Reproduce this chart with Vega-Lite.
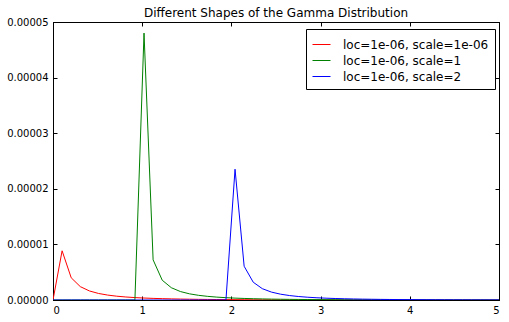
{
  "$schema": "https://vega.github.io/schema/vega-lite/v6.json",
  "width": 446,
  "height": 278,
  "autosize": "none",
  "padding": {"left": 53, "top": 22, "right": 10, "bottom": 22},
  "background": "white",
  "title": {"text": "Different Shapes of the Gamma Distribution", "font": "DejaVu Sans", "fontSize": 12, "fontWeight": "normal", "color": "black", "anchor": "middle", "offset": -3},
  "config": {
    "view": {"stroke": "black", "strokeWidth": 1},
    "axis": {"domainColor": "black", "domainWidth": 1, "tickColor": "black", "tickWidth": 1, "tickSize": -4, "labelPadding": 9, "labelColor": "black", "labelFont": "DejaVu Sans", "labelFontSize": 10, "grid": false, "title": null}
  },
  "data": {"values": [
    {"x": 0, "y": 0, "s": "loc=1e-06, scale=1e-06"},
    {"x": 0.1020, "y": 8.85e-6, "s": "loc=1e-06, scale=1e-06"},
    {"x": 0.2041, "y": 3.996e-6, "s": "loc=1e-06, scale=1e-06"},
    {"x": 0.3061, "y": 2.405e-6, "s": "loc=1e-06, scale=1e-06"},
    {"x": 0.4082, "y": 1.629e-6, "s": "loc=1e-06, scale=1e-06"},
    {"x": 0.5102, "y": 1.177e-6, "s": "loc=1e-06, scale=1e-06"},
    {"x": 0.6122, "y": 0.8855e-6, "s": "loc=1e-06, scale=1e-06"},
    {"x": 0.7143, "y": 0.6853e-6, "s": "loc=1e-06, scale=1e-06"},
    {"x": 0.8163, "y": 0.5415e-6, "s": "loc=1e-06, scale=1e-06"},
    {"x": 0.9184, "y": 0.4347e-6, "s": "loc=1e-06, scale=1e-06"},
    {"x": 1.0204, "y": 0.3532e-6, "s": "loc=1e-06, scale=1e-06"},
    {"x": 1.1224, "y": 0.29e-6, "s": "loc=1e-06, scale=1e-06"},
    {"x": 1.2245, "y": 0.24e-6, "s": "loc=1e-06, scale=1e-06"},
    {"x": 1.3265, "y": 0.2001e-6, "s": "loc=1e-06, scale=1e-06"},
    {"x": 1.4286, "y": 0.1678e-6, "s": "loc=1e-06, scale=1e-06"},
    {"x": 1.5306, "y": 0.1414e-6, "s": "loc=1e-06, scale=1e-06"},
    {"x": 1.6327, "y": 0.1197e-6, "s": "loc=1e-06, scale=1e-06"},
    {"x": 1.7347, "y": 0.1017e-6, "s": "loc=1e-06, scale=1e-06"},
    {"x": 1.8367, "y": 0.0867e-6, "s": "loc=1e-06, scale=1e-06"},
    {"x": 1.9388, "y": 0.0742e-6, "s": "loc=1e-06, scale=1e-06"},
    {"x": 2.0408, "y": 0.0637e-6, "s": "loc=1e-06, scale=1e-06"},
    {"x": 2.1429, "y": 0.0547e-6, "s": "loc=1e-06, scale=1e-06"},
    {"x": 2.2449, "y": 0.0472e-6, "s": "loc=1e-06, scale=1e-06"},
    {"x": 2.3469, "y": 0.0407e-6, "s": "loc=1e-06, scale=1e-06"},
    {"x": 2.4490, "y": 0.0353e-6, "s": "loc=1e-06, scale=1e-06"},
    {"x": 2.5510, "y": 0.0306e-6, "s": "loc=1e-06, scale=1e-06"},
    {"x": 2.6531, "y": 0.0265e-6, "s": "loc=1e-06, scale=1e-06"},
    {"x": 2.7551, "y": 0.0231e-6, "s": "loc=1e-06, scale=1e-06"},
    {"x": 2.8571, "y": 0.0201e-6, "s": "loc=1e-06, scale=1e-06"},
    {"x": 2.9592, "y": 0.0175e-6, "s": "loc=1e-06, scale=1e-06"},
    {"x": 3.0612, "y": 0.0153e-6, "s": "loc=1e-06, scale=1e-06"},
    {"x": 3.1633, "y": 0.0134e-6, "s": "loc=1e-06, scale=1e-06"},
    {"x": 3.2653, "y": 0.0117e-6, "s": "loc=1e-06, scale=1e-06"},
    {"x": 3.3673, "y": 0.0102e-6, "s": "loc=1e-06, scale=1e-06"},
    {"x": 3.4694, "y": 0.009e-6, "s": "loc=1e-06, scale=1e-06"},
    {"x": 3.5714, "y": 0.0079e-6, "s": "loc=1e-06, scale=1e-06"},
    {"x": 3.6735, "y": 0.0069e-6, "s": "loc=1e-06, scale=1e-06"},
    {"x": 3.7755, "y": 0.0061e-6, "s": "loc=1e-06, scale=1e-06"},
    {"x": 3.8776, "y": 0.0053e-6, "s": "loc=1e-06, scale=1e-06"},
    {"x": 3.9796, "y": 0.0047e-6, "s": "loc=1e-06, scale=1e-06"},
    {"x": 4.0816, "y": 0.0041e-6, "s": "loc=1e-06, scale=1e-06"},
    {"x": 4.1837, "y": 0.0036e-6, "s": "loc=1e-06, scale=1e-06"},
    {"x": 4.2857, "y": 0.0032e-6, "s": "loc=1e-06, scale=1e-06"},
    {"x": 4.3878, "y": 0.0028e-6, "s": "loc=1e-06, scale=1e-06"},
    {"x": 4.4898, "y": 0.0025e-6, "s": "loc=1e-06, scale=1e-06"},
    {"x": 4.5918, "y": 0.0022e-6, "s": "loc=1e-06, scale=1e-06"},
    {"x": 4.6939, "y": 0.002e-6, "s": "loc=1e-06, scale=1e-06"},
    {"x": 4.7959, "y": 0.0017e-6, "s": "loc=1e-06, scale=1e-06"},
    {"x": 4.8980, "y": 0.0015e-6, "s": "loc=1e-06, scale=1e-06"},
    {"x": 5, "y": 0.0013e-6, "s": "loc=1e-06, scale=1e-06"},

    {"x": 0, "y": 0, "s": "loc=1e-06, scale=1"},
    {"x": 0.1020, "y": 0, "s": "loc=1e-06, scale=1"},
    {"x": 0.2041, "y": 0, "s": "loc=1e-06, scale=1"},
    {"x": 0.3061, "y": 0, "s": "loc=1e-06, scale=1"},
    {"x": 0.4082, "y": 0, "s": "loc=1e-06, scale=1"},
    {"x": 0.5102, "y": 0, "s": "loc=1e-06, scale=1"},
    {"x": 0.6122, "y": 0, "s": "loc=1e-06, scale=1"},
    {"x": 0.7143, "y": 0, "s": "loc=1e-06, scale=1"},
    {"x": 0.8163, "y": 0, "s": "loc=1e-06, scale=1"},
    {"x": 0.9184, "y": 0, "s": "loc=1e-06, scale=1"},
    {"x": 1.0204, "y": 48.01e-6, "s": "loc=1e-06, scale=1"},
    {"x": 1.1224, "y": 7.225e-6, "s": "loc=1e-06, scale=1"},
    {"x": 1.2245, "y": 3.559e-6, "s": "loc=1e-06, scale=1"},
    {"x": 1.3265, "y": 2.209e-6, "s": "loc=1e-06, scale=1"},
    {"x": 1.4286, "y": 1.52e-6, "s": "loc=1e-06, scale=1"},
    {"x": 1.5306, "y": 1.109e-6, "s": "loc=1e-06, scale=1"},
    {"x": 1.6327, "y": 0.8396e-6, "s": "loc=1e-06, scale=1"},
    {"x": 1.7347, "y": 0.6529e-6, "s": "loc=1e-06, scale=1"},
    {"x": 1.8367, "y": 0.5176e-6, "s": "loc=1e-06, scale=1"},
    {"x": 1.9388, "y": 0.4166e-6, "s": "loc=1e-06, scale=1"},
    {"x": 2.0408, "y": 0.3393e-6, "s": "loc=1e-06, scale=1"},
    {"x": 2.1429, "y": 0.279e-6, "s": "loc=1e-06, scale=1"},
    {"x": 2.2449, "y": 0.2313e-6, "s": "loc=1e-06, scale=1"},
    {"x": 2.3469, "y": 0.193e-6, "s": "loc=1e-06, scale=1"},
    {"x": 2.4490, "y": 0.162e-6, "s": "loc=1e-06, scale=1"},
    {"x": 2.5510, "y": 0.1367e-6, "s": "loc=1e-06, scale=1"},
    {"x": 2.6531, "y": 0.1158e-6, "s": "loc=1e-06, scale=1"},
    {"x": 2.7551, "y": 0.0985e-6, "s": "loc=1e-06, scale=1"},
    {"x": 2.8571, "y": 0.0841e-6, "s": "loc=1e-06, scale=1"},
    {"x": 2.9592, "y": 0.072e-6, "s": "loc=1e-06, scale=1"},
    {"x": 3.0612, "y": 0.0618e-6, "s": "loc=1e-06, scale=1"},
    {"x": 3.1633, "y": 0.0531e-6, "s": "loc=1e-06, scale=1"},
    {"x": 3.2653, "y": 0.0458e-6, "s": "loc=1e-06, scale=1"},
    {"x": 3.3673, "y": 0.0396e-6, "s": "loc=1e-06, scale=1"},
    {"x": 3.4694, "y": 0.0343e-6, "s": "loc=1e-06, scale=1"},
    {"x": 3.5714, "y": 0.0297e-6, "s": "loc=1e-06, scale=1"},
    {"x": 3.6735, "y": 0.0258e-6, "s": "loc=1e-06, scale=1"},
    {"x": 3.7755, "y": 0.0225e-6, "s": "loc=1e-06, scale=1"},
    {"x": 3.8776, "y": 0.0196e-6, "s": "loc=1e-06, scale=1"},
    {"x": 3.9796, "y": 0.0171e-6, "s": "loc=1e-06, scale=1"},
    {"x": 4.0816, "y": 0.0149e-6, "s": "loc=1e-06, scale=1"},
    {"x": 4.1837, "y": 0.013e-6, "s": "loc=1e-06, scale=1"},
    {"x": 4.2857, "y": 0.0114e-6, "s": "loc=1e-06, scale=1"},
    {"x": 4.3878, "y": 0.01e-6, "s": "loc=1e-06, scale=1"},
    {"x": 4.4898, "y": 0.0087e-6, "s": "loc=1e-06, scale=1"},
    {"x": 4.5918, "y": 0.0077e-6, "s": "loc=1e-06, scale=1"},
    {"x": 4.6939, "y": 0.0067e-6, "s": "loc=1e-06, scale=1"},
    {"x": 4.7959, "y": 0.0059e-6, "s": "loc=1e-06, scale=1"},
    {"x": 4.8980, "y": 0.0052e-6, "s": "loc=1e-06, scale=1"},
    {"x": 5, "y": 0.0046e-6, "s": "loc=1e-06, scale=1"},

    {"x": 0, "y": 0, "s": "loc=1e-06, scale=2"},
    {"x": 0.1020, "y": 0, "s": "loc=1e-06, scale=2"},
    {"x": 0.2041, "y": 0, "s": "loc=1e-06, scale=2"},
    {"x": 0.3061, "y": 0, "s": "loc=1e-06, scale=2"},
    {"x": 0.4082, "y": 0, "s": "loc=1e-06, scale=2"},
    {"x": 0.5102, "y": 0, "s": "loc=1e-06, scale=2"},
    {"x": 0.6122, "y": 0, "s": "loc=1e-06, scale=2"},
    {"x": 0.7143, "y": 0, "s": "loc=1e-06, scale=2"},
    {"x": 0.8163, "y": 0, "s": "loc=1e-06, scale=2"},
    {"x": 0.9184, "y": 0, "s": "loc=1e-06, scale=2"},
    {"x": 1.0204, "y": 0, "s": "loc=1e-06, scale=2"},
    {"x": 1.1224, "y": 0, "s": "loc=1e-06, scale=2"},
    {"x": 1.2245, "y": 0, "s": "loc=1e-06, scale=2"},
    {"x": 1.3265, "y": 0, "s": "loc=1e-06, scale=2"},
    {"x": 1.4286, "y": 0, "s": "loc=1e-06, scale=2"},
    {"x": 1.5306, "y": 0, "s": "loc=1e-06, scale=2"},
    {"x": 1.6327, "y": 0, "s": "loc=1e-06, scale=2"},
    {"x": 1.7347, "y": 0, "s": "loc=1e-06, scale=2"},
    {"x": 1.8367, "y": 0, "s": "loc=1e-06, scale=2"},
    {"x": 1.9388, "y": 0, "s": "loc=1e-06, scale=2"},
    {"x": 2.0408, "y": 23.52e-6, "s": "loc=1e-06, scale=2"},
    {"x": 2.1429, "y": 6.068e-6, "s": "loc=1e-06, scale=2"},
    {"x": 2.2449, "y": 3.196e-6, "s": "loc=1e-06, scale=2"},
    {"x": 2.3469, "y": 2.037e-6, "s": "loc=1e-06, scale=2"},
    {"x": 2.4490, "y": 1.422e-6, "s": "loc=1e-06, scale=2"},
    {"x": 2.5510, "y": 1.046e-6, "s": "loc=1e-06, scale=2"},
    {"x": 2.6531, "y": 0.797e-6, "s": "loc=1e-06, scale=2"},
    {"x": 2.7551, "y": 0.6224e-6, "s": "loc=1e-06, scale=2"},
    {"x": 2.8571, "y": 0.4951e-6, "s": "loc=1e-06, scale=2"},
    {"x": 2.9592, "y": 0.3995e-6, "s": "loc=1e-06, scale=2"},
    {"x": 3.0612, "y": 0.3261e-6, "s": "loc=1e-06, scale=2"},
    {"x": 3.1633, "y": 0.2686e-6, "s": "loc=1e-06, scale=2"},
    {"x": 3.2653, "y": 0.223e-6, "s": "loc=1e-06, scale=2"},
    {"x": 3.3673, "y": 0.1863e-6, "s": "loc=1e-06, scale=2"},
    {"x": 3.4694, "y": 0.1566e-6, "s": "loc=1e-06, scale=2"},
    {"x": 3.5714, "y": 0.1322e-6, "s": "loc=1e-06, scale=2"},
    {"x": 3.6735, "y": 0.1121e-6, "s": "loc=1e-06, scale=2"},
    {"x": 3.7755, "y": 0.0954e-6, "s": "loc=1e-06, scale=2"},
    {"x": 3.8776, "y": 0.0815e-6, "s": "loc=1e-06, scale=2"},
    {"x": 3.9796, "y": 0.0698e-6, "s": "loc=1e-06, scale=2"},
    {"x": 4.0816, "y": 0.0599e-6, "s": "loc=1e-06, scale=2"},
    {"x": 4.1837, "y": 0.0516e-6, "s": "loc=1e-06, scale=2"},
    {"x": 4.2857, "y": 0.0445e-6, "s": "loc=1e-06, scale=2"},
    {"x": 4.3878, "y": 0.0385e-6, "s": "loc=1e-06, scale=2"},
    {"x": 4.4898, "y": 0.0333e-6, "s": "loc=1e-06, scale=2"},
    {"x": 4.5918, "y": 0.0289e-6, "s": "loc=1e-06, scale=2"},
    {"x": 4.6939, "y": 0.0251e-6, "s": "loc=1e-06, scale=2"},
    {"x": 4.7959, "y": 0.0218e-6, "s": "loc=1e-06, scale=2"},
    {"x": 4.8980, "y": 0.019e-6, "s": "loc=1e-06, scale=2"},
    {"x": 5, "y": 0.0166e-6, "s": "loc=1e-06, scale=2"}
  ]},
  "layer": [
    {
      "mark": {"type": "line", "strokeWidth": 1, "clip": true},
      "encoding": {
        "x": {"field": "x", "type": "quantitative", "scale": {"domain": [0, 5], "nice": false, "zero": false}, "axis": {"orient": "bottom", "values": [0, 1, 2, 3, 4, 5], "format": "d"}},
        "y": {"field": "y", "type": "quantitative", "scale": {"domain": [0, 0.00005], "nice": false}, "axis": {"orient": "left", "values": [0, 0.00001, 0.00002, 0.00003, 0.00004, 0.00005], "format": ".5f"}},
        "color": {"field": "s", "type": "nominal", "scale": {"domain": ["loc=1e-06, scale=1e-06", "loc=1e-06, scale=1", "loc=1e-06, scale=2"], "range": ["#ff0000", "#008000", "#0000ff"]},
          "legend": {"orient": "none", "legendX": 253, "legendY": 7, "title": null, "symbolType": "stroke", "symbolSize": 324, "symbolStrokeWidth": 1, "labelFont": "DejaVu Sans", "labelFontSize": 12, "labelColor": "black", "labelOffset": 12, "padding": 6, "rowPadding": 0, "strokeColor": "black", "fillColor": "white", "cornerRadius": 0}}
      }
    },
    {
      "mark": {"type": "line", "strokeOpacity": 0},
      "encoding": {
        "x": {"field": "x", "type": "quantitative", "axis": {"orient": "top", "values": [0, 1, 2, 3, 4, 5], "labels": false}},
        "y": {"field": "y", "type": "quantitative", "axis": {"orient": "right", "values": [0, 0.00001, 0.00002, 0.00003, 0.00004, 0.00005], "labels": false}}
      }
    }
  ],
  "resolve": {"axis": {"x": "independent", "y": "independent"}}
}
